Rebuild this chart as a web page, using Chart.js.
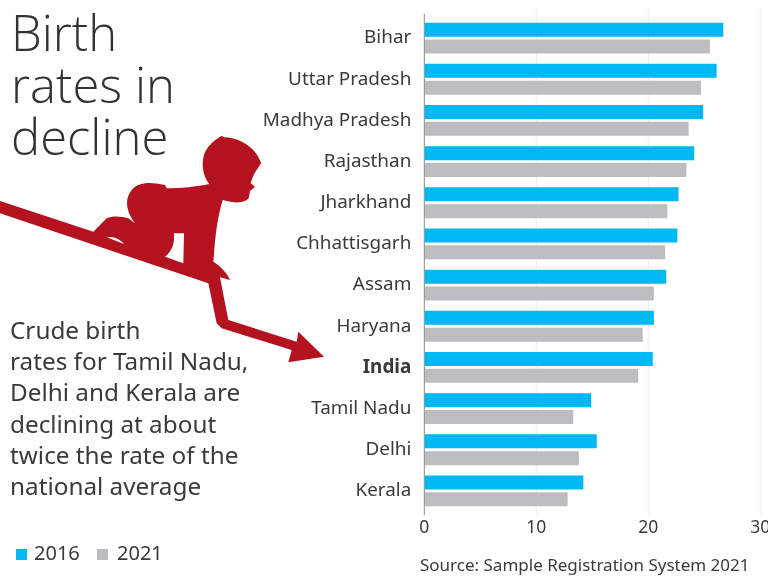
<!DOCTYPE html>
<html><head><meta charset="utf-8">
<script src="https://cdn.jsdelivr.net/npm/chart.js@4"></script>
<style>
html,body{margin:0;padding:0;background:#fff;width:768px;height:576px;overflow:hidden}
#wrap{position:relative;width:768px;height:576px;overflow:hidden}
canvas{position:absolute;left:0;top:0}
.t{position:absolute;white-space:nowrap;color:#3a3a3c;font-family:"Noto Sans",sans-serif}
.title{left:11px;font-family:"Open Sans",sans-serif;font-weight:300;font-size:49px;line-height:52px;color:#333}
.body{left:10px;font-size:24.3px;line-height:31.2px}
.sw{position:absolute;width:11px;height:11px;top:549px}
</style></head><body>
<div id="wrap">
<svg style="position:absolute;left:0;top:120px" width="340" height="260" viewBox="0 0 1020 780">
<path fill="#b5121f" d="M0,243 L280,335 L320,295 C340,285 370,290 385,295 L405,310 C375,270 375,235 395,210 C415,185 450,185 495,195 L500,205 C540,205 590,200 628,192 C610,170 603,135 612,105 C620,80 640,62 665,47 L672,52 C720,52 770,85 783,130 L770,150 C760,165 755,178 752,190 L765,200 L750,213 L746,235 C735,248 710,252 668,240 C650,300 645,360 640,425 C665,440 685,465 690,480 L660,472 L685,600 L890,665 L895,635 L972,710 L865,727 L875,690 L665,625 L650,610 L625,490 L0,280 Z"/>
<path fill="#fff" d="M522,340 L552,340 L550,430 L495,410 C515,395 525,370 522,340 Z"/>
<path fill="#fff" d="M320,352 C340,347 360,357 372,372 Z"/>
</svg>
<canvas id="c" width="768" height="576"></canvas>
<div class="t title" style="top:6px">Birth<br>rates in<br>decline</div>
<div class="t body" style="top:314px">Crude birth<br>rates for Tamil Nadu,<br>Delhi and Kerala are<br>declining at about<br>twice the rate of the<br>national average</div>
<div class="sw" style="left:16px;background:#00b9f2"></div>
<div class="t" style="left:34px;top:539px;font-size:20px">2016</div>
<div class="sw" style="left:97px;background:#bcbdc0"></div>
<div class="t" style="left:117px;top:539px;font-size:20px">2021</div>
<div class="t" style="left:420px;top:553px;font-size:17px">Source: Sample Registration System 2021</div>
</div>
<script>
const categories = ["Bihar","Uttar Pradesh","Madhya Pradesh","Rajasthan","Jharkhand","Chhattisgarh","Assam","Haryana","India","Tamil Nadu","Delhi","Kerala"];
const values2016 = [26.7,26.1,24.9,24.1,22.7,22.6,21.6,20.5,20.4,14.9,15.4,14.2];
const values2021 = [25.5,24.7,23.6,23.4,21.7,21.5,20.5,19.5,19.1,13.3,13.8,12.8];
const xTicks = [0,10,20,30];

const extendedAxes = {
  id:'extendedAxes',
  beforeDatasetsDraw(chart){
    const {ctx,scales:{x}} = chart;
    ctx.save();
    ctx.lineWidth = 1;
    xTicks.slice(1).forEach(v=>{
      const px = x.getPixelForValue(v);
      ctx.strokeStyle = '#ececec';
      ctx.beginPath(); ctx.moveTo(px,8); ctx.lineTo(px,515); ctx.stroke();
    });
    ctx.restore();
  },
  afterDatasetsDraw(chart){
    const {ctx,scales:{x}} = chart;
    const px = x.getPixelForValue(0);
    ctx.save();
    ctx.strokeStyle = '#8a8a8c'; ctx.lineWidth = 1;
    ctx.beginPath(); ctx.moveTo(px,14); ctx.lineTo(px,515); ctx.stroke();
    ctx.restore();
  }
};

new Chart(document.getElementById('c'),{
  type:'bar',
  data:{labels:categories,datasets:[
    {label:'2016',data:values2016,backgroundColor:'#00b9f2',borderWidth:0,categoryPercentage:0.82,barPercentage:0.83},
    {label:'2021',data:values2021,backgroundColor:'#bcbdc0',borderWidth:0,categoryPercentage:0.82,barPercentage:0.83}
  ]},
  options:{
    indexAxis:'y',responsive:false,animation:false,
    layout:{padding:{top:0,right:7.7,left:0,bottom:0}},
    plugins:{legend:{display:false},tooltip:{enabled:false},title:{display:false}},
    scales:{
      y:{
        grid:{display:false,drawTicks:false},border:{display:false},
        afterFit(s){s.width=424.3;s.paddingTop=17.5;s.paddingBottom=0;},
        ticks:{padding:13,autoSkip:false,color:'#3a3a3c',
          font:c=>({family:'"Noto Sans",sans-serif',size:18.9,weight:categories[c.index]==='India'?'bold':'normal'})}
      },
      x:{
        min:0,max:30,
        grid:{display:false,drawTicks:false},border:{display:false},
        afterFit(s){s.height=64.5;s.paddingLeft=0;s.paddingRight=0;},
        ticks:{stepSize:10,padding:6,maxRotation:0,color:'#3a3a3c',font:{family:'"Noto Sans",sans-serif',size:17.5}}
      }
    }
  },
  plugins:[extendedAxes]
});
</script>
</body></html>
